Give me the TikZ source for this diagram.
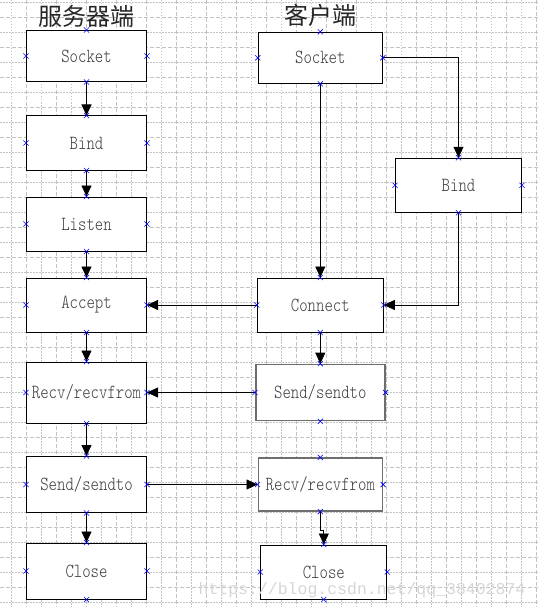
\documentclass[tikz,border=0pt]{standalone}
\usepackage{fontspec}
\newfontfamily\cjk{Noto Sans CJK SC}
\newfontfamily\wmfont{Liberation Mono}
\newfontfamily\boxfont{Latin Modern Mono Light}[FakeStretch=0.8]
\usetikzlibrary{positioning,arrows.meta,shapes.misc}
\definecolor{txtgray}{RGB}{60,60,60}
\definecolor{gridgray}{RGB}{195,195,195}
\definecolor{edgegray}{RGB}{110,110,110}
\definecolor{markblue}{RGB}{0,0,255}

\tikzset{
  box/.style={draw,line width=1pt,fill=white,minimum width=120pt,minimum height=54pt,
    inner sep=0pt,text=txtgray,font=\boxfont\fontsize{20}{20}\selectfont},
  boxg/.style={box,draw=edgegray,line width=1.6pt},
  cpt/.style={draw=markblue,cross out,minimum size=4.5pt,inner sep=0pt,line width=0.6pt},
  gdash/.style={gridgray,line width=0.8pt,dash pattern=on 4pt off 2pt},
  gdot/.style={gridgray,line width=0.8pt,dash pattern=on 1.5pt off 1.5pt},
  title/.style={font=\cjk\fontsize{24}{24}\selectfont,text=black!85}
}

\begin{document}
\begin{tikzpicture}[x=1pt,y=-1pt,on grid,line width=0.8pt,>={Triangle[length=11pt,width=10pt]}]
       \useasboundingbox (0,0) rectangle (538,607);
       % grid
       \foreach \i in {0,...,17} {
         \draw[gdot] (11.7+30*\i,0) -- (11.7+30*\i,607);
         \draw[gdash] (26.7+30*\i,0) -- (26.7+30*\i,607);
       }
       \foreach \j in {0,...,20} {
         \draw[gdot] (0,2.7+30*\j) -- (538,2.7+30*\j);
         \draw[gdash] (0,17.7+30*\j) -- (538,17.7+30*\j);
       }
       % server
       \node [box,minimum height=51pt] (ssock) at (86.5,56) {Socket};
       \node [box, below=87pt of ssock] (sbind) {Bind};
       \node [box, below=81pt of sbind] (slisten) {Listen};
       \node [box, below=81pt of slisten] (saccept) {Accept};
       \node [box,minimum height=61pt, below=87.5pt of saccept] (srecv) {Recv/recvfrom};
       \node [box,minimum height=56pt, below=92pt of srecv] (ssend) {Send/sendto};
       \node [box,minimum height=56pt, below=86.5pt of ssend] (sclose) {Close};
       \node [title, above=40pt of ssock] (stitle) {服务器端};
       % client
       \node [box,minimum width=124pt,minimum height=51pt] (csock) at (320.3,57.8) {Socket};
       \node [box,minimum width=126pt, below right=127.5pt and 138.2pt of csock] (cbind) {Bind};
       \node [box,minimum width=126pt, below=247.2pt of csock] (cconn) {Connect};
       \node [boxg,minimum width=129pt,minimum height=56pt, below=87.5pt of cconn] (csend) {Send/sendto};
       \node [boxg,minimum width=124pt,minimum height=52.5pt, below=92pt of csend] (crecv) {Recv/recvfrom};
       \node [box,minimum width=126pt, below right=87.5pt and 3.5pt of crecv] (cclose) {Close};
       \node [title, above=42pt of csock] (ctitle) {客户端};
        \path[->]
        (ssock) edge (sbind)
        (sbind) edge (slisten)
        (slisten) edge (saccept)
        (saccept) edge (srecv)
        (srecv) edge (ssend)
        (ssend) edge (sclose)
              edge (crecv)
        (csock) edge (cconn)
        (cconn) edge (saccept)
              edge (csend)
        (csend) edge (srecv);
        \draw[->] (csock.east) -| (cbind.north);
        \draw[->] (cbind.south) |- (cconn.east);
        \draw[->] (crecv.south) -- ++(0,19) -| (cclose.north);
       % connection points
       \foreach \n in {ssock,sbind,slisten,saccept,srecv,ssend,sclose,csock,cbind,cconn,csend,crecv,cclose}
         \foreach \a in {north,south,east,west}
           \node [cpt] (\n-\a) at (\n.\a) {};
       \node [text=black!16,font=\wmfont\fontsize{16.5}{16.5}\selectfont] (mark) at (362,590) {https://blog.csdn.net/qq\_38402874};
    \end{tikzpicture}
\end{document}
